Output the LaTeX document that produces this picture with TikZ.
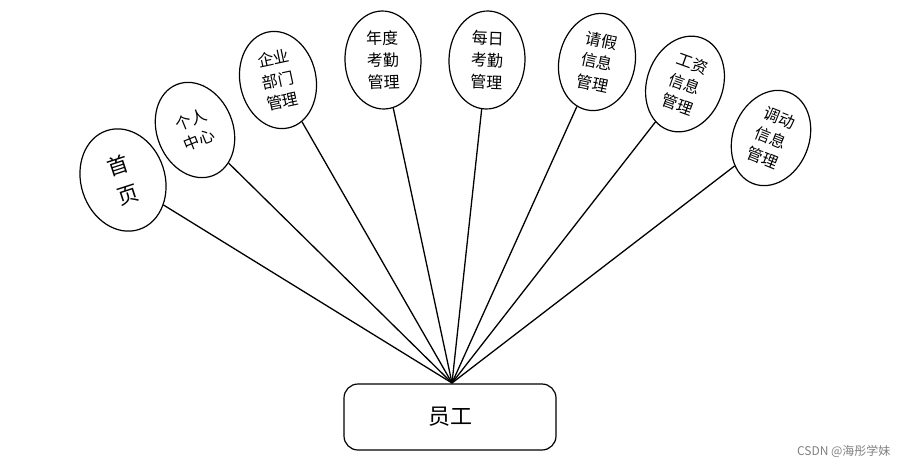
\documentclass[tikz,border=0pt]{standalone}
\usepackage{fontspec}
\newfontfamily\cjk{Noto Sans CJK SC}
\usetikzlibrary{positioning,shapes.geometric}
\tikzset{>=stealth,
  topic/.style={draw,line width=1.2pt,ellipse,minimum width=76pt,minimum height=98pt,
    inner sep=0pt,align=center,font=\cjk\fontsize{16}{22}\selectfont,fill=white},
  link/.style={line width=1.3pt}}
\begin{document}
\begin{tikzpicture}[x=1pt,y=-1pt]
\useasboundingbox (0,0) rectangle (908,469);
\node[draw,line width=1.2pt,rounded corners=14pt,minimum width=212pt,minimum height=66pt,
  font=\cjk\fontsize{22}{24}\selectfont] (Y) at (450,417) {员工};
\coordinate (T) at (452,383);
\node[topic,rotate=18,minimum width=84pt,minimum height=104pt,font=\cjk\fontsize{21}{30}\selectfont] (A) at (123,180) {首\\页};
\node[topic,rotate=22] (B) at (195,130) {个人\\中心};
\node[topic,rotate=12] (C) at (278,80) {企业\\部门\\管理};
\node[topic,rotate=2] (D) at (383,60) {年度\\考勤\\管理};
\node[topic,rotate=-2] (E) at (487,60) {每日\\考勤\\管理};
\node[topic,rotate=-12] (F) at (597,62) {请假\\信息\\管理};
\node[topic,rotate=-20] (G) at (685,84) {工资\\信息\\管理};
\node[topic,rotate=-22] (H) at (771,138) {调动\\信息\\管理};
\foreach \n in {A,B,C,D,E,F,G,H}
  \draw[link] (T) -- (\n);
\node[anchor=east,text=gray,font=\cjk\fontsize{12}{14}\selectfont] (W) at (894,451) {CSDN @海彤学妹};
\end{tikzpicture}
\end{document}
